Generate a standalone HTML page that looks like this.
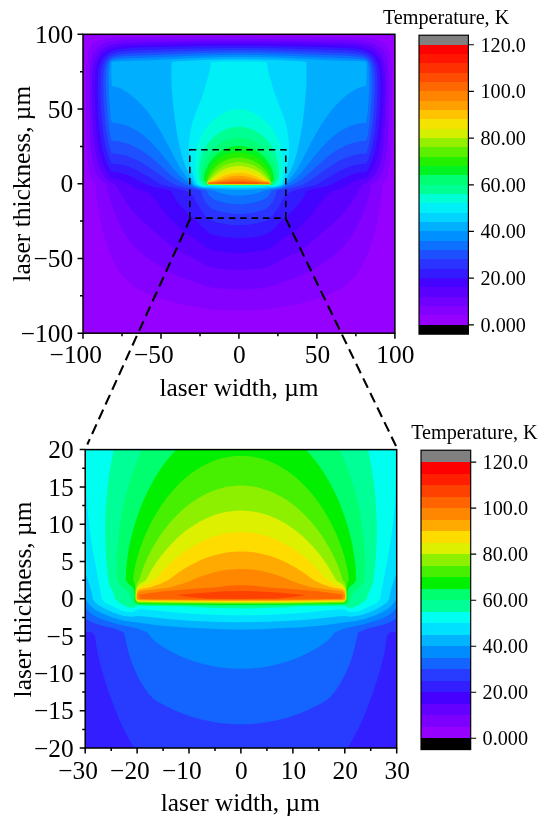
<!DOCTYPE html>
<html lang="en"><head><meta charset="utf-8"><title>Temperature distribution</title>
<style>html,body{margin:0;padding:0;background:#fff}svg{display:block}text{font-family:"Liberation Serif", serif;fill:#000}</style></head><body>
<svg width="550" height="825" viewBox="0 0 550 825">
<rect width="550" height="825" fill="#fff"/>
<clipPath id="c1"><rect x="83.0" y="34.3" width="311.9" height="298.9"/></clipPath>
<g clip-path="url(#c1)" shape-rendering="geometricPrecision">
<rect x="83.0" y="34.3" width="311.9" height="298.9" fill="#9600FF"/>
<path fill="#8400FF" d="M217.9,310.1L229.6,310.5L242.1,310.6L254.5,310.3L265.5,309.7L271.7,308.8L283.4,306.5L295.1,304.5L302.1,303.0L309.1,301.1L320.0,297.7L328.6,294.5L335.6,291.3L341.9,287.7L347.3,283.8L352.0,279.5L356.0,274.9L358.3,271.8L360.6,268.2L364.5,261.2L368.1,253.2L371.1,245.0L374.1,235.3L377.4,221.9L380.1,207.5L381.8,195.0L382.2,189.7L382.4,184.5L382.8,183.8L384.1,182.3L385.5,180.1L386.7,177.8L387.5,175.5L388.4,172.5L389.0,169.6L390.1,161.3L390.7,153.9L391.1,144.9L391.7,119.5L392.0,85.1L391.8,74.7L391.5,66.4L391.0,61.2L390.4,56.7L389.6,53.0L388.7,50.0L387.6,47.8L386.2,45.5L384.8,43.9L382.4,42.1L380.4,41.0L377.7,40.0L374.6,39.2L370.7,38.5L362.2,37.6L349.7,37.1L308.3,36.8L241.3,36.6L187.5,36.7L131.3,37.1L121.2,37.3L113.4,37.8L107.2,38.5L102.5,39.4L98.6,40.6L95.5,42.1L93.0,44.0L91.7,45.5L90.8,46.8L89.9,48.5L89.0,50.7L88.1,53.7L87.5,56.7L86.6,64.2L86.1,74.7L85.9,97.1L86.3,128.5L87.0,148.6L87.9,162.1L89.1,170.3L89.7,173.3L90.6,176.3L92.4,180.1L93.8,182.3L95.1,183.8L95.5,184.5L96.0,193.5L97.4,204.7L99.8,218.1L102.6,230.8L104.8,238.8L107.3,246.5L109.8,253.2L112.8,260.0L115.7,265.6L118.9,270.7L122.5,275.7L125.9,279.5L129.7,283.1L133.7,286.2L138.4,289.2L143.9,292.1L150.1,294.8L157.9,297.7L168.7,301.1L175.8,303.0L183.6,304.7L194.5,306.5L207.0,309.0L212.4,309.7Z"/>
<path fill="#7000FF" d="M231.2,289.1L240.5,289.2L249.1,289.0L258.4,288.4L266.2,287.4L269.4,286.7L272.5,285.8L283.4,281.8L292.0,279.1L297.4,277.0L302.1,275.0L309.1,271.5L320.0,265.1L327.8,259.9L334.9,254.6L340.3,249.8L345.5,244.3L349.7,239.1L353.6,233.1L356.4,227.8L359.6,221.1L362.5,214.4L365.3,207.1L367.9,199.4L369.9,192.7L370.9,188.2L371.3,184.5L372.0,183.8L375.4,181.5L377.8,179.3L379.0,177.8L380.5,175.5L382.4,171.8L383.7,168.1L384.7,164.3L385.6,159.8L386.4,153.9L387.2,146.4L387.9,136.7L388.7,113.5L389.0,85.9L388.8,76.9L388.4,69.4L387.9,64.9L387.1,60.5L386.0,56.7L384.8,53.7L383.2,51.0L381.6,49.0L379.6,47.0L377.0,45.2L374.6,44.0L371.5,42.8L368.4,41.9L364.5,41.2L359.8,40.6L355.1,40.2L342.7,39.7L284.2,39.1L238.2,38.9L190.6,39.1L133.7,39.7L124.3,40.1L117.3,40.7L111.1,41.6L106.4,42.8L102.5,44.3L100.4,45.5L98.6,46.8L96.0,49.2L93.9,52.2L92.8,54.5L91.7,57.5L90.8,60.5L90.2,63.4L89.7,67.2L89.3,71.7L88.9,82.1L89.0,104.5L89.7,129.2L90.7,146.4L91.4,153.1L92.2,159.1L93.1,163.9L94.2,168.1L95.5,171.8L97.0,174.9L98.9,177.8L100.9,180.0L102.5,181.5L105.9,183.8L106.6,184.5L107.0,188.2L108.0,192.7L109.7,198.7L112.3,206.2L115.0,213.3L118.1,220.7L121.2,227.3L123.9,232.3L127.4,238.0L131.3,243.1L136.0,248.2L141.5,253.3L147.0,257.7L154.0,262.6L161.8,267.4L171.0,272.7L176.6,275.4L182.8,278.0L187.5,279.6L194.5,281.8L203.9,285.2L208.5,286.7L212.4,287.6L216.3,288.1L223.4,288.7Z"/>
<path fill="#5B00FF" d="M230.4,269.7L239.7,269.9L249.1,269.6L258.4,268.7L263.9,267.9L266.2,267.4L269.4,266.4L273.3,264.6L283.4,259.0L290.4,255.8L294.3,253.9L298.2,251.7L301.7,249.5L305.2,247.0L308.3,244.6L321.1,233.8L332.5,223.9L340.3,216.4L345.8,210.4L350.5,204.3L353.6,199.5L360.1,188.2L362.8,184.5L364.1,183.8L366.0,183.2L367.5,182.3L371.6,178.5L373.6,176.3L375.2,174.0L376.6,171.8L378.0,168.8L379.2,165.8L380.2,162.8L382.0,155.4L383.4,146.4L384.5,135.2L385.4,121.0L385.9,103.8L386.1,87.4L385.9,78.4L385.5,71.7L384.7,65.7L383.6,61.2L382.1,57.5L380.0,53.7L377.3,50.7L374.5,48.5L371.8,47.0L369.2,45.9L366.0,44.9L362.2,44.0L358.3,43.4L353.6,43.0L340.3,42.3L282.6,41.4L240.5,41.1L200.0,41.4L142.3,42.2L131.3,42.5L123.5,43.0L117.3,43.8L111.9,44.9L107.2,46.5L103.3,48.6L100.2,51.1L98.6,52.9L97.4,54.5L95.5,58.1L94.1,61.9L93.0,67.2L92.3,73.2L91.9,80.6L91.8,90.3L91.9,103.0L92.4,116.8L92.9,127.7L93.6,137.4L94.4,145.6L95.5,153.1L96.7,159.1L98.2,164.3L99.9,168.8L102.2,173.3L104.9,177.0L108.6,180.8L111.1,182.8L111.9,183.2L113.8,183.8L115.1,184.5L117.8,188.2L124.3,199.5L127.4,204.3L132.1,210.4L136.8,215.6L142.3,221.0L149.0,227.1L163.8,239.8L171.9,246.4L177.3,250.2L182.8,253.4L187.5,255.8L194.5,259.0L203.9,264.2L208.5,266.4L211.7,267.4L215.6,268.2L222.6,269.1Z"/>
<path fill="#4403FF" d="M229.6,252.5L235.1,252.8L241.3,252.9L246.7,252.6L253.0,252.1L259.2,251.2L264.7,250.2L267.0,249.4L270.1,247.9L274.8,244.9L283.4,238.2L290.4,233.9L294.3,231.2L297.7,228.6L301.3,225.5L304.4,222.4L307.7,218.9L319.3,204.2L323.9,198.5L327.8,194.4L331.7,191.2L339.5,189.3L342.7,188.2L345.8,186.6L348.1,184.5L349.1,183.8L352.8,182.0L356.7,180.4L361.4,179.0L363.7,178.6L366.0,178.4L366.8,177.9L369.8,174.0L371.3,171.8L373.0,168.8L374.4,165.8L375.6,162.8L377.6,156.1L379.2,148.6L380.6,138.9L381.7,127.7L382.6,114.3L383.1,99.3L383.2,88.1L383.1,79.1L382.6,72.4L381.6,66.4L380.4,61.9L379.4,59.7L378.2,57.5L376.0,54.5L374.5,53.0L372.7,51.5L370.3,50.0L367.6,48.7L364.5,47.7L361.4,46.9L357.5,46.2L353.6,45.8L343.4,45.1L300.6,44.1L260.0,43.5L227.3,43.4L192.9,43.8L139.1,44.9L129.0,45.4L121.2,46.1L117.3,46.7L114.2,47.5L111.1,48.4L108.7,49.4L106.4,50.7L104.2,52.2L102.5,53.8L100.7,56.0L98.6,59.5L97.0,63.4L95.8,68.7L95.1,74.7L94.7,82.9L94.7,93.3L95.0,106.8L95.6,119.5L96.4,129.9L97.3,138.9L98.3,146.4L99.6,153.1L101.1,159.1L102.9,164.3L104.9,168.8L107.6,173.3L111.1,177.9L111.9,178.4L114.2,178.6L116.5,179.0L118.9,179.6L122.0,180.7L128.8,183.8L129.8,184.5L132.1,186.6L134.5,187.9L138.4,189.3L146.2,191.2L146.9,191.8L150.1,194.4L154.0,198.5L158.6,204.2L169.6,218.1L172.7,221.6L175.9,224.8L179.3,227.8L183.1,230.8L187.5,233.9L194.5,238.2L202.3,244.3L205.4,246.5L209.3,248.7L213.2,250.2L221.0,251.6Z"/>
<path fill="#341BFF" d="M229.6,237.6L234.3,237.9L239.7,238.0L245.2,237.8L249.9,237.4L255.3,236.7L260.8,235.7L264.7,234.8L267.0,233.9L270.1,232.0L273.4,229.3L276.4,226.3L284.2,217.9L291.1,212.1L295.9,207.4L299.4,203.2L302.1,199.4L304.4,195.5L306.3,191.2L307.6,190.5L311.5,189.3L324.7,186.8L328.6,185.8L331.0,184.8L338.0,181.0L343.4,178.2L350.5,175.1L354.4,173.8L357.5,172.9L362.2,172.1L366.0,171.9L366.8,171.2L369.8,165.8L372.3,159.8L374.1,153.9L375.9,146.4L377.2,138.2L378.4,128.5L379.3,117.2L380.0,104.5L380.3,92.6L380.3,82.9L380.0,75.4L379.3,69.4L378.0,64.2L376.5,60.5L374.6,57.5L373.1,55.8L371.5,54.4L369.9,53.2L367.6,51.9L365.3,50.9L362.2,50.0L359.0,49.3L355.1,48.7L345.8,47.9L324.7,47.2L271.7,46.0L243.6,45.7L216.3,45.8L189.0,46.3L146.9,47.3L133.7,47.8L125.1,48.4L121.2,48.9L117.3,49.6L114.2,50.4L111.9,51.2L109.5,52.3L107.2,53.8L105.4,55.2L103.3,57.5L102.3,59.0L101.1,61.2L99.7,64.9L98.6,69.4L97.9,75.4L97.6,82.9L97.6,93.3L98.0,106.0L98.6,118.0L99.4,127.7L100.4,135.9L101.5,143.4L102.8,150.1L104.4,156.1L106.2,161.3L108.5,166.6L111.1,171.2L111.9,171.9L115.7,172.1L120.4,172.9L123.5,173.8L127.4,175.1L134.5,178.2L139.9,181.0L146.9,184.8L149.3,185.8L154.0,186.9L165.2,189.0L168.2,189.7L170.3,190.5L171.6,191.2L173.2,195.0L175.3,198.7L178.1,202.8L181.2,206.5L186.7,212.0L193.7,217.9L202.2,227.1L206.3,230.8L210.1,233.5L213.2,234.8L221.0,236.5Z"/>
<path fill="#2B33FF" d="M232.7,224.9L236.6,225.1L241.3,225.1L246.0,224.8L249.9,224.4L254.5,223.7L258.4,223.0L263.1,221.8L265.5,221.0L267.8,219.7L270.1,217.8L272.5,215.5L274.6,212.9L278.2,207.7L283.4,198.3L285.0,195.8L286.7,194.2L291.3,191.2L295.8,189.7L314.4,185.2L316.3,184.5L317.7,183.8L336.4,172.7L341.1,170.2L345.0,168.4L349.7,166.6L354.4,165.3L360.6,164.1L366.0,163.7L366.8,162.8L369.2,156.8L371.1,150.9L372.7,144.1L374.0,136.7L375.2,128.5L376.1,118.7L376.9,107.5L377.4,96.3L377.5,87.4L377.4,79.9L377.0,73.9L376.3,68.7L375.2,64.2L373.9,61.2L372.3,58.8L369.9,56.4L368.4,55.3L366.0,54.0L363.7,53.1L361.4,52.5L355.1,51.3L345.8,50.5L325.5,49.8L274.8,48.3L249.1,48.0L224.9,48.0L202.3,48.4L174.2,49.1L139.9,50.2L126.7,50.9L118.9,51.9L115.7,52.7L113.4,53.4L111.1,54.4L108.7,55.8L107.2,57.1L105.6,58.8L104.5,60.5L103.6,61.9L102.5,64.9L101.6,68.7L100.9,73.9L100.5,79.9L100.4,87.4L100.5,96.3L101.0,106.8L101.6,116.5L102.4,125.5L103.4,133.7L104.5,140.4L105.7,146.4L107.3,152.4L109.0,157.6L111.1,162.8L111.9,163.7L117.3,164.1L123.5,165.3L128.2,166.6L132.9,168.4L136.8,170.2L141.5,172.7L160.2,183.8L161.6,184.5L163.5,185.2L182.1,189.7L186.6,191.2L191.2,194.2L192.9,195.8L194.5,198.3L198.8,206.2L202.2,211.4L205.8,215.9L207.8,217.8L209.3,219.1L210.9,220.2L212.4,221.0L214.0,221.6L217.1,222.4L224.9,224.0Z"/>
<path fill="#1E50FF" d="M232.7,213.7L236.6,213.9L241.3,213.9L249.1,213.2L253.0,212.6L256.9,211.8L260.8,210.8L264.7,209.4L266.5,208.4L268.6,206.7L270.4,204.7L272.5,201.9L274.0,199.2L275.3,196.5L276.1,194.2L276.8,191.2L277.2,190.5L280.1,189.7L284.2,189.0L286.5,188.4L290.4,187.9L295.1,187.0L298.9,186.0L301.4,185.2L303.2,184.5L307.3,182.3L312.0,179.3L326.3,169.1L331.7,165.4L336.4,162.5L341.1,160.0L347.3,157.3L353.6,155.3L359.8,154.1L366.0,153.6L366.8,152.4L368.9,144.9L370.4,138.2L371.6,130.7L372.7,122.5L373.4,114.3L374.1,104.5L374.5,94.8L374.7,86.6L374.7,79.9L374.4,74.7L373.9,70.2L373.3,66.4L372.0,62.7L370.8,60.5L369.2,58.6L367.6,57.4L366.0,56.5L363.7,55.6L361.4,54.9L355.1,53.9L347.3,53.2L331.0,52.5L279.5,50.8L256.9,50.3L235.1,50.2L214.8,50.4L192.2,51.0L143.0,52.7L128.2,53.4L120.4,54.2L115.0,55.4L112.6,56.2L111.1,56.9L109.5,58.0L108.0,59.4L106.7,61.2L105.3,64.2L104.5,67.2L103.8,71.7L103.4,76.9L103.2,82.9L103.5,98.6L104.0,107.5L104.7,116.5L105.5,124.7L106.5,132.2L107.7,138.9L109.1,145.6L111.1,152.4L111.9,153.6L118.1,154.1L124.3,155.3L130.6,157.3L136.8,160.0L141.5,162.5L146.2,165.4L151.6,169.1L165.9,179.3L170.6,182.3L174.7,184.5L176.5,185.2L179.0,186.0L182.8,187.0L187.5,187.9L191.4,188.4L193.7,189.0L197.8,189.7L200.7,190.5L201.1,191.2L201.8,194.2L202.6,196.5L204.6,200.6L206.2,203.0L207.8,205.0L209.3,206.7L210.9,208.0L212.4,209.0L214.0,209.7L219.5,211.4L225.7,212.8Z"/>
<path fill="#0E70FF" d="M232.7,203.9L236.6,204.2L241.3,204.2L245.2,203.9L249.1,203.5L253.0,202.8L256.9,201.8L260.8,200.6L263.9,199.4L266.2,197.9L268.4,195.7L270.1,193.2L271.5,190.5L274.1,189.7L279.5,188.9L283.4,187.9L285.0,187.2L286.5,186.2L289.6,185.6L292.5,184.5L296.7,182.5L299.8,180.6L303.7,177.8L307.3,174.8L321.6,161.9L327.8,156.6L334.1,151.9L339.5,148.5L345.8,145.4L349.7,143.9L352.8,142.9L359.0,141.5L362.9,141.0L366.0,140.8L366.8,139.1L367.9,133.7L369.0,127.0L369.9,119.5L371.2,103.8L371.9,87.4L371.9,76.1L371.6,71.7L371.2,67.9L370.5,64.9L369.8,62.7L369.0,61.2L367.6,59.7L366.8,59.1L365.3,58.3L361.4,57.2L355.9,56.5L347.3,55.8L277.2,53.1L256.1,52.6L235.8,52.5L216.3,52.7L196.1,53.2L128.2,56.0L120.4,56.6L115.0,57.6L111.9,58.7L110.3,59.7L109.5,60.4L108.5,61.9L107.6,64.2L106.9,67.2L106.5,70.2L106.0,79.1L106.1,91.1L106.9,106.8L108.2,121.0L109.0,127.7L110.1,134.4L111.1,139.1L111.9,140.8L118.1,141.3L123.5,142.4L129.8,144.4L136.0,147.3L142.3,150.9L149.3,155.9L155.5,161.2L171.5,175.5L176.2,179.3L180.5,182.0L185.9,184.7L189.0,185.8L191.4,186.2L192.9,187.2L194.5,187.9L198.4,188.9L203.8,189.7L206.4,190.5L207.9,193.5L210.1,196.4L212.4,198.5L214.8,199.7L218.7,201.1L223.4,202.4L228.0,203.4Z"/>
<path fill="#0090FF" d="M236.6,195.7L240.5,195.8L244.4,195.6L251.4,194.6L255.3,193.7L258.4,192.8L261.6,191.7L264.4,190.5L268.2,189.7L274.8,188.8L278.7,188.1L281.8,187.3L284.2,186.3L285.0,185.8L286.5,184.2L290.1,182.3L293.3,180.0L296.0,177.8L299.1,174.8L305.1,168.1L316.9,153.3L322.4,146.9L328.6,140.5L334.9,135.1L338.8,132.3L342.7,129.8L346.6,127.8L350.5,126.1L354.4,124.7L358.3,123.7L362.2,123.1L366.0,122.8L366.8,119.8L368.1,107.5L368.8,95.6L369.2,83.6L369.2,74.7L368.9,67.9L368.2,63.4L367.7,61.9L367.2,61.2L366.0,60.4L362.9,59.6L358.3,59.0L351.2,58.6L277.9,55.4L257.7,54.9L238.9,54.7L220.2,54.9L200.0,55.4L126.7,58.6L119.6,59.0L115.0,59.6L111.9,60.4L110.7,61.2L110.2,61.9L109.7,63.4L109.0,67.9L108.7,74.7L108.7,83.6L109.1,95.6L109.8,107.5L111.1,119.8L111.9,122.8L115.7,123.1L119.6,123.7L123.5,124.7L127.4,126.1L131.3,127.8L135.2,129.8L139.1,132.3L143.0,135.1L149.3,140.5L155.5,146.9L161.0,153.3L172.8,168.1L178.8,174.8L181.9,177.8L184.6,180.0L187.8,182.3L191.4,184.2L192.9,185.8L193.7,186.3L196.1,187.3L199.2,188.1L203.1,188.8L209.7,189.7L213.5,190.5L218.7,192.6L224.9,194.3L230.4,195.2Z"/>
<path fill="#00B0FF" d="M230.4,189.7L240.5,189.9L253.0,189.6L263.1,189.1L272.5,188.3L276.4,187.7L280.3,186.8L282.6,185.9L285.0,184.5L285.6,183.8L286.5,182.3L290.0,178.5L292.5,175.5L294.7,172.5L297.2,168.8L301.9,160.6L313.0,139.0L318.5,129.2L321.6,124.1L324.7,119.4L327.8,115.0L331.7,110.1L335.6,105.6L340.3,100.8L345.0,96.6L349.7,93.0L354.4,90.1L358.3,88.1L362.2,86.8L366.0,86.1L366.4,79.1L366.6,72.4L366.6,65.7L366.3,61.9L366.0,61.7L364.5,61.6L359.0,61.3L332.5,60.4L278.7,57.8L258.4,57.2L239.7,57.0L221.0,57.2L201.5,57.7L145.4,60.4L120.4,61.2L111.9,61.7L111.6,61.9L111.5,63.4L111.3,70.2L111.4,77.6L111.9,86.1L115.7,86.8L119.6,88.1L123.5,90.1L128.2,93.0L132.9,96.6L137.6,100.8L142.3,105.6L146.2,110.1L150.1,115.0L153.2,119.4L156.3,124.1L159.4,129.2L164.9,139.0L176.0,160.6L180.7,168.8L183.2,172.5L185.4,175.5L187.9,178.5L191.4,182.3L192.3,183.8L192.9,184.5L194.5,185.6L196.8,186.5L200.0,187.4L203.9,188.1L216.3,189.2Z"/>
<path fill="#00D4FF" d="M220.2,188.3L231.9,188.6L244.4,188.7L256.9,188.3L268.6,187.5L272.5,187.5L275.6,187.1L279.8,186.0L282.6,184.8L283.2,184.5L283.9,183.8L285.0,181.1L288.5,174.8L290.8,170.3L293.8,162.8L295.5,157.6L297.2,151.6L298.7,144.9L300.2,137.4L301.9,127.7L303.3,117.2L304.6,106.8L305.5,96.3L306.2,87.4L306.5,78.4L306.5,70.2L306.3,61.9L299.6,61.2L274.8,60.0L256.1,59.4L238.9,59.2L221.8,59.4L203.1,60.0L178.3,61.2L171.6,61.9L171.4,74.7L171.7,87.4L172.8,101.6L174.6,117.2L176.8,132.2L179.2,144.9L181.7,155.4L183.3,160.6L184.9,165.1L186.5,168.8L188.2,172.5L192.9,181.1L194.0,183.8L194.7,184.5L196.1,185.2L198.4,186.1L201.5,186.9L203.9,187.4L205.4,187.5L209.3,187.5Z"/>
<path fill="#00F0F8" d="M230.4,187.5L239.7,187.6L249.1,187.5L258.4,187.1L268.6,186.4L272.5,186.8L274.0,186.6L276.8,186.0L281.1,184.5L281.9,183.8L282.7,180.8L286.1,171.0L287.3,166.6L288.1,162.1L288.7,157.6L289.1,152.4L289.1,147.9L288.9,142.7L288.4,137.4L287.7,132.2L286.2,125.5L284.2,118.3L281.8,111.9L276.0,97.1L272.8,87.4L268.2,70.9L267.4,66.4L266.9,61.9L255.3,61.6L238.9,61.4L222.6,61.6L211.0,61.9L210.5,66.4L209.5,71.7L204.4,89.6L201.4,98.6L194.9,115.0L192.7,121.7L190.8,129.2L189.5,137.4L188.8,145.6L188.9,153.9L189.6,160.6L190.8,167.3L192.3,172.5L195.2,180.8L196.0,183.8L196.8,184.5L198.4,185.2L201.5,186.1L204.6,186.7L206.2,186.7L207.8,186.4L209.3,186.4L220.2,187.1Z"/>
<path fill="#00FFD5" d="M205.4,186.0L207.0,185.9L207.7,185.2L208.4,185.2L226.5,186.3L242.8,186.5L255.3,186.1L270.1,185.2L270.9,185.9L272.5,186.0L274.0,185.8L276.0,185.2L278.3,184.5L279.7,183.8L282.0,173.3L282.5,169.6L282.8,165.8L282.8,162.1L282.6,157.6L282.0,153.1L281.2,149.4L280.0,144.9L278.7,141.2L276.7,136.7L274.8,133.0L272.5,129.3L270.1,126.2L267.8,123.5L264.7,120.4L261.6,117.8L257.7,115.1L253.8,113.0L250.6,111.6L246.7,110.3L243.6,109.6L240.5,109.3L237.4,109.3L234.3,109.6L230.4,110.5L227.3,111.6L223.4,113.4L219.5,115.6L216.3,117.8L213.2,120.4L209.6,124.0L207.0,127.2L204.0,131.4L201.9,135.2L199.8,139.7L198.1,144.1L196.7,149.4L195.8,153.9L195.2,159.1L195.1,165.1L195.5,170.3L196.3,175.5L198.2,183.8L199.6,184.5L201.9,185.2L203.9,185.8Z"/>
<path fill="#00FF92" d="M205.4,185.3L207.0,185.4L207.8,185.1L239.7,185.4L270.1,185.1L270.9,185.4L272.6,185.2L274.7,184.5L275.8,183.8L276.5,182.3L277.9,180.8L278.2,180.0L278.8,174.8L278.9,169.6L278.3,164.3L277.2,159.1L275.6,154.2L273.3,149.0L271.3,145.6L269.2,142.7L266.7,139.7L263.9,136.9L260.8,134.3L257.7,132.2L254.5,130.4L250.6,128.8L247.5,127.9L243.6,127.1L239.7,126.8L235.8,126.9L232.7,127.4L228.8,128.3L224.9,129.7L221.8,131.3L217.9,133.7L214.8,136.2L211.7,139.2L209.3,141.9L207.0,145.1L204.6,149.0L202.7,153.1L201.1,157.6L199.8,162.8L199.1,168.1L199.0,173.3L199.6,179.3L200.0,180.8L201.4,182.3L202.1,183.8L203.2,184.5Z"/>
<path fill="#00FF72" d="M207.0,184.8L210.9,185.0L238.9,185.1L267.0,185.0L270.9,184.8L271.5,184.5L272.2,183.0L272.9,182.3L274.8,181.2L275.5,180.8L276.0,180.0L276.2,177.0L276.0,174.0L275.7,171.0L275.1,168.1L274.0,164.5L272.8,161.3L271.0,157.6L269.1,154.6L267.0,151.7L264.2,148.6L261.6,146.2L258.4,143.8L255.3,142.0L252.2,140.5L249.1,139.3L245.2,138.4L242.1,137.9L238.2,137.8L235.1,138.0L231.2,138.7L227.3,139.9L224.1,141.2L220.2,143.3L217.1,145.5L214.0,148.3L211.0,151.6L208.5,154.9L206.5,158.3L204.5,162.8L202.8,168.1L201.9,173.3L201.8,177.8L201.9,180.0L202.4,180.8L205.0,182.3L205.7,183.0L206.4,184.5Z"/>
<path fill="#00F421" d="M207.8,184.8L238.9,185.0L270.1,184.8L270.8,184.5L271.1,182.3L271.7,181.5L273.3,180.8L274.0,180.0L273.8,176.3L273.2,173.3L272.0,169.6L270.7,166.6L269.1,163.6L267.0,160.4L264.7,157.6L262.3,155.2L260.0,153.3L257.7,151.6L254.5,149.8L251.4,148.3L248.3,147.2L245.2,146.5L242.1,146.1L238.2,145.9L235.1,146.1L231.2,146.8L228.0,147.7L224.1,149.4L221.0,151.1L217.9,153.3L214.8,156.0L212.4,158.5L210.1,161.5L207.8,165.4L206.2,168.8L204.7,173.3L204.0,177.0L203.9,180.0L204.6,180.8L206.2,181.5L206.8,182.3L207.1,184.5Z"/>
<path fill="#23F000" d="M207.8,184.6L235.8,184.9L269.4,184.7L270.4,184.5L270.8,183.8L270.9,181.2L272.2,180.0L272.1,179.3L271.7,177.0L270.8,174.0L269.4,171.0L267.8,168.3L266.2,166.1L263.9,163.3L261.6,161.1L259.2,159.1L256.9,157.5L253.8,155.8L251.4,154.8L248.3,153.7L245.2,152.9L242.1,152.5L238.9,152.3L235.8,152.5L232.7,152.9L229.6,153.7L226.5,154.8L223.4,156.2L220.2,158.0L217.9,159.7L215.6,161.8L213.2,164.2L210.9,167.2L208.9,170.3L207.1,174.0L206.2,177.0L205.7,180.0L207.0,181.2L207.1,183.8L207.5,184.5Z"/>
<path fill="#5BF000" d="M208.5,184.6L238.9,184.8L269.4,184.6L270.1,184.5L270.7,183.8L270.6,180.0L269.9,177.8L268.9,175.5L267.8,173.6L266.2,171.3L264.7,169.4L262.3,167.0L260.0,165.0L257.7,163.3L255.3,161.9L253.0,160.7L250.6,159.7L247.5,158.7L244.4,158.1L242.1,157.8L239.7,157.6L236.6,157.7L233.5,158.1L231.2,158.5L228.0,159.4L225.7,160.3L222.6,161.9L220.2,163.3L217.9,165.0L215.6,167.0L213.2,169.4L210.9,172.4L209.3,174.9L208.0,177.8L207.3,180.0L207.2,183.8L207.8,184.5Z"/>
<path fill="#94F000" d="M211.7,184.5L240.5,184.6L269.4,184.5L270.1,184.4L270.6,183.8L270.6,183.0L270.6,182.3L270.1,180.8L269.2,180.0L267.8,177.6L265.5,174.4L263.9,172.7L261.6,170.5L257.7,167.7L255.3,166.3L253.0,165.1L248.3,163.4L243.6,162.4L241.3,162.2L238.2,162.1L235.1,162.3L231.9,162.9L228.8,163.7L226.5,164.5L224.1,165.5L221.0,167.2L218.7,168.7L216.3,170.5L214.0,172.7L211.7,175.4L210.1,177.6L208.7,180.0L207.8,180.8L207.5,181.5L207.3,183.8L207.8,184.4Z"/>
<path fill="#D4F000" d="M235.1,184.5L269.4,184.3L270.1,184.2L270.5,183.8L270.5,183.0L270.1,181.4L269.4,180.8L267.5,180.0L265.5,177.6L262.3,174.7L259.2,172.3L255.3,170.0L251.4,168.3L246.7,166.9L242.1,166.2L237.4,166.1L233.5,166.5L229.6,167.3L225.7,168.6L221.8,170.4L218.7,172.3L215.6,174.7L212.4,177.6L210.4,180.0L208.5,180.8L207.8,181.4L207.5,182.3L207.4,183.8L207.8,184.2L208.5,184.3Z"/>
<path fill="#F4E200" d="M207.8,184.1L211.7,184.3L235.1,184.4L269.4,184.2L270.1,184.1L270.4,183.8L270.4,183.0L270.1,181.8L269.4,181.3L267.4,180.8L265.5,180.0L263.1,178.1L260.0,175.9L256.9,174.1L253.8,172.6L249.9,171.2L246.0,170.2L242.1,169.7L238.2,169.6L234.3,169.9L230.4,170.6L226.5,171.7L222.6,173.3L220.2,174.5L217.1,176.4L212.4,180.0L210.5,180.8L208.5,181.3L207.8,181.8L207.5,183.0L207.5,183.8Z"/>
<path fill="#FFC300" d="M207.8,184.0L211.7,184.1L234.3,184.3L268.6,184.1L270.1,184.0L270.3,183.8L270.3,183.0L270.1,182.1L269.4,181.7L266.2,181.1L262.7,180.0L256.9,176.8L251.4,174.7L247.5,173.7L244.4,173.1L241.3,172.8L238.2,172.8L235.1,173.0L231.2,173.5L228.0,174.3L224.9,175.2L220.2,177.2L215.2,180.0L211.7,181.1L208.5,181.7L207.8,182.1L207.7,182.3L207.6,183.8Z"/>
<path fill="#FFA000" d="M207.8,183.9L210.9,184.0L233.5,184.1L267.8,184.0L270.1,183.9L270.2,183.0L270.1,182.5L269.4,182.0L264.4,181.5L261.1,180.8L258.5,180.0L253.8,178.2L249.1,176.9L243.6,176.0L238.2,175.7L234.3,176.0L229.6,176.7L224.9,177.9L219.4,180.0L216.8,180.8L213.5,181.5L208.5,182.0L207.8,182.5L207.7,183.0Z"/>
<path fill="#FF8400" d="M208.5,183.9L238.2,184.0L268.6,183.9L270.1,183.8L270.1,183.0L269.4,182.4L258.6,181.5L246.0,178.9L242.1,178.5L238.2,178.4L234.3,178.7L231.2,179.1L219.3,181.5L208.5,182.4L207.8,183.0L207.8,183.8Z"/>
<path fill="#FF6800" d="M209.3,183.8L238.9,183.9L267.8,183.8L269.2,183.8L269.5,183.0L262.2,182.3L247.1,181.5L242.1,181.1L238.2,181.0L215.7,182.3L210.1,182.8L208.4,183.0L208.5,183.7Z"/>
<path fill="#FF4C00" d="M223.4,183.8L254.8,183.8L262.0,183.0L249.1,182.2L241.3,182.1L233.5,182.1L227.8,182.3L215.9,183.0Z"/>
</g>
<clipPath id="c2"><rect x="85.2" y="449.6" width="311.5" height="298.4"/></clipPath>
<g clip-path="url(#c2)" shape-rendering="geometricPrecision">
<rect x="85.2" y="449.6" width="311.5" height="298.4" fill="#9600FF"/>
<path fill="#7D00FF" d="M77.4,762.9L407.1,762.9L407.1,434.7L74.8,434.7L74.8,762.9Z"/>
<path fill="#6400FF" d="M77.4,762.9L407.1,762.9L407.1,434.7L74.8,434.7L74.8,762.9Z"/>
<path fill="#4600FF" d="M77.4,762.9L407.1,762.9L407.1,434.7L74.8,434.7L74.8,762.9Z"/>
<path fill="#321EFF" d="M82.6,759.6L85.5,762.9L396.4,762.9L401.9,756.5L407.1,750.2L407.1,434.7L74.8,434.7L74.8,750.2Z"/>
<path fill="#283CFF" d="M144.9,762.1L145.7,762.9L336.2,762.9L339.6,759.2L342.5,755.5L347.4,748.5L350.0,744.3L354.2,736.8L357.8,729.8L361.5,721.9L364.7,714.4L367.7,707.0L371.9,695.8L374.4,688.3L376.8,680.9L380.1,669.7L383.0,658.5L384.7,651.0L386.0,643.6L386.8,636.1L388.9,633.4L390.0,632.4L394.1,631.7L396.7,631.8L399.3,632.5L401.9,632.7L407.1,631.9L407.1,434.7L74.8,434.7L74.8,631.9L80.0,632.7L82.6,632.5L85.2,631.8L87.8,631.7L91.9,632.4L93.0,633.4L95.1,636.1L95.9,643.6L97.2,651.0L98.9,658.5L101.8,669.7L105.1,680.9L107.5,688.3L110.0,695.8L114.2,707.0L117.2,714.4L121.5,724.4L125.8,733.1L129.3,739.8L134.2,748.0L137.1,752.3L139.7,755.9Z"/>
<path fill="#1464FF" d="M215.0,722.2L220.2,722.9L228.0,723.7L235.8,724.2L243.5,724.2L251.3,723.9L256.5,723.5L264.3,722.6L269.5,721.8L277.3,720.2L282.5,718.9L290.3,716.7L295.5,715.0L303.2,712.0L308.4,709.8L316.2,706.0L321.4,703.3L324.0,701.8L326.6,700.0L329.2,697.9L331.8,695.2L334.4,692.2L337.0,688.6L339.6,684.6L342.2,680.1L344.8,675.1L347.4,669.3L350.0,662.8L351.5,658.5L352.7,654.8L354.8,647.3L356.4,639.8L357.1,636.1L358.2,632.4L367.5,628.6L378.5,626.0L383.7,624.5L388.9,622.7L391.5,621.5L394.1,620.0L396.7,617.9L399.3,616.3L401.9,616.0L407.1,615.0L407.1,434.7L74.8,434.7L74.8,615.0L80.0,616.0L82.6,616.3L85.2,617.9L87.8,620.0L90.4,621.5L93.0,622.7L98.2,624.5L103.4,626.0L114.4,628.6L123.7,632.4L124.8,636.1L125.5,639.8L127.1,647.3L129.3,655.2L131.7,662.2L133.1,665.9L137.1,675.1L140.1,680.9L142.3,684.6L144.9,688.6L147.5,692.2L150.1,695.2L152.7,697.9L155.3,700.0L157.9,701.8L160.5,703.3L168.3,707.3L176.1,710.9L183.8,714.0L191.6,716.7L199.4,718.9L207.2,720.8Z"/>
<path fill="#008CFF" d="M212.4,666.1L220.2,667.4L230.6,668.5L240.9,668.8L251.3,668.5L261.7,667.4L272.1,665.6L279.9,663.7L290.3,660.5L298.1,657.6L305.8,654.1L313.6,650.0L318.8,646.9L324.0,643.5L326.6,641.5L329.2,639.0L331.8,636.0L334.6,632.4L344.4,628.6L350.0,627.2L363.0,624.4L373.3,621.6L381.1,618.9L386.3,616.6L388.9,615.1L390.9,613.7L394.1,610.7L397.2,606.3L399.3,602.7L401.9,601.6L407.1,598.2L407.1,434.7L74.8,434.7L74.8,598.2L80.0,601.6L82.6,602.7L84.7,606.3L87.8,610.7L91.0,613.7L93.0,615.1L95.6,616.6L100.8,618.9L108.6,621.6L118.9,624.4L131.9,627.2L137.5,628.6L147.3,632.4L150.1,636.0L152.7,639.0L155.3,641.5L157.9,643.5L165.7,648.5L173.5,652.8L181.2,656.5L186.4,658.6L191.6,660.5L202.0,663.7Z"/>
<path fill="#00B4FF" d="M212.4,628.7L222.8,629.2L235.8,629.5L248.7,629.4L259.1,629.2L285.1,628.1L298.1,627.4L313.6,626.2L326.6,624.9L342.2,622.7L355.2,621.1L360.4,620.1L365.5,618.7L373.3,616.1L378.5,614.0L381.1,612.8L386.3,609.8L388.9,607.9L391.5,605.5L394.2,602.5L396.4,598.8L397.6,595.1L399.3,591.6L407.1,578.9L407.1,434.7L74.8,434.7L74.8,578.9L82.6,591.6L84.3,595.1L85.5,598.8L87.8,602.7L90.4,605.5L93.0,607.9L95.9,610.0L100.8,612.8L106.0,615.1L111.2,617.0L118.9,619.4L124.1,620.7L129.3,621.5L139.7,622.7L155.3,624.9L165.7,626.0L186.4,627.5Z"/>
<path fill="#00E1FF" d="M202.0,621.3L220.2,621.9L235.8,622.2L251.3,622.1L266.9,621.8L285.1,621.0L303.2,619.9L318.8,618.5L339.6,616.2L344.8,616.1L350.0,616.7L352.6,616.6L355.2,616.3L360.4,615.3L365.5,613.7L370.7,611.7L374.6,610.0L378.5,608.0L381.5,606.3L386.7,602.5L389.1,598.8L390.6,591.3L392.7,583.9L402.8,554.0L407.1,540.1L407.1,434.7L74.8,434.7L74.8,540.1L79.1,554.0L89.2,583.9L91.3,591.3L92.8,598.8L95.2,602.5L98.2,604.8L100.8,606.5L106.0,609.3L108.6,610.6L113.8,612.7L118.9,614.5L124.1,615.9L126.7,616.3L129.3,616.6L131.9,616.7L137.1,616.1L142.3,616.2L160.5,618.2L173.5,619.5L186.4,620.4Z"/>
<path fill="#00FFF0" d="M194.2,613.9L212.4,614.7L230.6,615.2L246.1,615.3L264.3,614.9L282.5,614.2L300.7,613.0L316.2,611.6L337.0,609.4L342.2,609.2L344.8,609.4L345.3,610.0L347.4,611.3L350.0,612.0L352.6,612.0L355.2,611.8L357.8,611.2L361.7,610.0L375.9,603.3L377.2,602.5L380.2,598.8L382.7,583.9L387.8,557.8L389.7,546.6L392.0,531.7L393.3,520.5L395.0,501.8L395.6,490.6L396.0,479.4L396.2,468.3L396.1,457.1L395.7,445.9L395.2,434.7L86.7,434.7L86.2,445.9L85.8,457.1L85.8,475.7L86.5,494.4L87.8,513.0L89.5,527.9L91.6,542.9L94.1,557.8L99.8,587.6L101.7,598.8L104.7,602.5L106.0,603.3L120.2,610.0L124.1,611.2L126.7,611.8L129.3,612.0L131.9,612.0L134.5,611.3L136.6,610.0L137.1,609.4L139.7,609.2L142.3,609.2L147.5,609.7L170.9,612.1Z"/>
<path fill="#00FF96" d="M126.7,606.6L129.3,607.4L131.9,607.7L134.5,607.7L135.6,606.3L137.1,605.7L181.8,606.3L199.4,607.3L215.0,607.9L230.6,608.3L243.5,608.4L256.5,608.2L269.5,607.8L285.1,607.2L300.1,606.3L344.8,605.7L346.3,606.3L347.4,607.7L350.0,607.7L352.6,607.4L356.2,606.3L363.0,602.5L366.8,598.8L367.9,595.1L369.3,591.3L371.3,587.6L372.7,583.9L373.5,580.2L375.1,565.2L376.0,554.0L376.5,542.9L376.8,531.7L376.7,520.5L376.2,509.3L375.1,494.4L373.9,483.2L371.7,468.3L369.7,457.1L367.2,445.9L364.4,434.7L117.5,434.7L113.8,449.6L111.2,462.8L109.0,475.7L107.2,490.6L105.9,505.6L105.2,520.5L105.2,535.4L105.7,550.3L106.4,561.5L107.5,572.7L108.4,580.2L109.2,583.9L110.6,587.6L112.6,591.3L114.0,595.1L115.1,598.8L118.9,602.5L125.7,606.3Z"/>
<path fill="#00FF6E" d="M134.5,604.0L137.1,604.7L139.7,604.9L170.9,605.4L233.2,605.7L290.3,605.5L342.2,604.9L344.8,604.7L347.4,604.0L349.4,602.5L350.0,600.1L350.8,598.8L351.8,595.1L354.0,591.3L357.8,588.6L360.4,586.3L362.6,583.9L364.2,580.2L364.8,569.0L364.7,557.8L364.2,546.6L363.2,535.4L361.2,520.5L359.2,509.3L357.6,501.8L355.7,494.4L352.6,483.1L350.0,475.0L347.6,468.3L343.1,457.1L339.6,449.2L337.0,443.9L332.0,434.7L149.9,434.7L144.9,443.9L142.3,449.2L138.8,457.1L134.3,468.3L131.9,475.0L129.3,483.1L126.2,494.4L124.3,501.8L122.7,509.3L120.1,524.2L118.3,539.1L117.5,550.3L117.1,561.5L117.2,572.7L117.7,580.2L119.3,583.9L121.5,586.3L124.1,588.6L127.9,591.3L130.1,595.1L131.1,598.8L131.9,600.1L132.5,602.5Z"/>
<path fill="#00F000" d="M137.1,603.8L139.7,604.1L147.5,604.3L194.2,604.8L238.4,604.9L279.9,604.8L342.2,604.1L344.8,603.8L346.6,602.5L347.3,598.8L347.4,590.8L349.1,587.6L350.0,586.4L353.5,583.9L355.9,580.2L356.0,576.4L355.7,569.0L354.5,557.8L352.7,546.6L350.2,535.4L347.4,525.1L343.4,513.0L339.6,503.1L334.4,491.6L329.2,481.7L324.0,473.0L318.8,465.3L316.2,461.8L311.0,455.4L305.8,449.6L300.7,444.5L295.5,439.9L288.6,434.7L193.3,434.7L186.4,439.9L181.2,444.5L178.6,447.0L173.5,452.4L170.9,455.4L165.7,461.8L163.1,465.3L158.6,472.0L155.3,477.2L151.9,483.2L148.0,490.6L142.9,501.8L138.5,513.0L134.5,525.1L132.7,531.7L130.8,539.1L129.2,546.6L127.9,554.0L126.9,561.5L126.2,569.0L125.9,576.4L126.0,580.2L128.4,583.9L131.9,586.4L132.8,587.6L134.5,590.8L134.6,598.8L135.3,602.5Z"/>
<path fill="#46F000" d="M137.1,602.9L139.7,603.3L152.7,603.6L228.0,604.1L287.7,604.0L342.2,603.3L344.8,602.9L345.3,602.5L346.9,598.8L346.8,587.6L347.4,583.0L348.8,580.2L348.5,576.4L348.0,572.7L346.6,565.2L344.8,558.1L342.4,550.3L339.6,542.3L337.0,535.8L334.4,529.9L331.8,524.6L326.6,515.0L324.0,510.7L318.8,502.8L316.2,499.3L311.0,492.7L308.4,489.7L303.2,484.2L300.7,481.7L295.5,477.1L287.7,471.2L279.9,466.3L274.7,463.6L269.5,461.3L261.7,458.6L256.5,457.4L251.3,456.4L246.1,455.9L240.9,455.7L235.8,455.9L230.6,456.4L225.4,457.4L220.2,458.6L215.0,460.3L209.8,462.4L202.0,466.3L196.8,469.4L191.6,473.0L186.4,477.1L181.2,481.7L178.6,484.2L173.5,489.7L168.3,495.9L165.7,499.3L160.5,506.6L157.9,510.7L154.3,516.7L150.1,524.6L147.5,529.9L144.9,535.8L142.3,542.3L139.7,549.6L137.1,558.1L135.3,565.2L133.9,572.7L133.4,576.4L133.1,580.2L134.5,583.0L135.1,587.6L135.0,598.8L136.6,602.5Z"/>
<path fill="#8CF000" d="M142.3,602.6L191.6,603.1L243.5,603.3L300.7,603.0L342.2,602.5L344.8,602.0L346.5,598.8L346.3,591.3L345.9,587.6L345.2,583.9L344.8,582.5L342.8,580.2L339.6,570.2L337.0,563.6L334.4,557.8L331.8,552.5L329.2,547.7L324.0,539.0L321.4,535.1L316.2,528.0L311.0,521.6L308.4,518.7L303.2,513.4L300.7,510.9L295.5,506.4L287.7,500.6L279.9,495.9L272.1,492.1L264.3,489.2L259.1,487.7L253.9,486.6L246.1,485.7L240.9,485.5L235.8,485.7L230.6,486.2L225.4,487.1L217.6,489.2L212.4,491.0L207.2,493.2L199.4,497.4L191.6,502.4L189.0,504.4L183.8,508.6L181.2,510.9L176.1,516.0L170.9,521.6L168.3,524.7L163.1,531.4L160.5,535.1L155.3,543.2L152.7,547.7L150.1,552.5L147.5,557.8L144.9,563.6L142.3,570.2L139.1,580.2L137.1,582.5L136.7,583.9L136.0,587.6L135.6,591.3L135.4,598.8L137.1,602.0L139.7,602.5Z"/>
<path fill="#DCF000" d="M228.0,602.5L285.1,602.4L324.0,602.1L342.2,601.7L344.8,601.3L346.1,598.8L346.1,595.1L345.8,591.3L344.8,587.1L342.2,584.1L336.1,580.2L331.8,572.4L326.6,564.1L321.4,556.8L316.2,550.3L311.0,544.4L305.8,539.2L300.7,534.5L292.9,528.4L285.1,523.3L277.3,519.1L269.5,515.8L264.3,514.0L256.5,512.1L248.7,510.9L240.9,510.5L233.2,510.9L225.4,512.1L220.2,513.3L215.0,514.8L207.2,517.9L199.4,521.8L194.2,524.9L186.4,530.3L181.2,534.5L176.1,539.2L170.9,544.4L165.7,550.3L160.5,556.8L155.3,564.1L152.7,568.1L150.1,572.4L145.8,580.2L139.7,584.1L137.1,587.1L136.1,591.3L135.8,595.1L135.8,598.8L137.1,601.3L139.7,601.7L173.5,602.2Z"/>
<path fill="#FFDC00" d="M137.1,600.5L139.7,601.0L150.1,601.2L228.0,601.8L285.1,601.7L342.2,601.0L344.8,600.5L345.7,598.8L345.7,595.1L345.3,591.3L344.8,589.3L342.6,587.6L342.2,587.1L333.8,583.9L327.3,580.2L318.8,570.5L313.6,565.3L308.4,560.5L303.2,556.1L298.1,552.1L292.9,548.6L287.7,545.4L282.5,542.6L277.3,540.1L269.5,537.0L264.3,535.4L259.1,534.1L251.3,532.8L246.1,532.3L238.4,532.2L230.6,532.8L225.4,533.6L220.2,534.7L212.4,537.0L204.6,540.1L199.4,542.6L194.2,545.4L186.4,550.3L178.6,556.1L170.9,562.8L163.1,570.5L154.6,580.2L148.1,583.9L139.7,587.1L139.3,587.6L137.1,589.3L136.6,591.3L136.2,595.1L136.2,598.8Z"/>
<path fill="#FFAA00" d="M137.1,599.7L139.7,600.3L147.5,600.4L225.4,601.1L277.3,601.0L339.6,600.3L342.2,600.3L344.8,599.7L345.3,598.8L345.3,595.1L344.8,591.3L342.2,589.3L332.3,587.6L324.0,584.8L321.6,583.9L318.8,582.5L313.9,580.2L305.8,574.2L300.7,570.7L295.5,567.5L287.7,563.2L279.9,559.6L274.7,557.6L269.5,555.8L264.3,554.4L259.1,553.2L253.9,552.3L248.7,551.8L243.5,551.5L238.4,551.5L233.2,551.8L228.0,552.3L222.8,553.2L217.6,554.4L212.4,555.8L207.2,557.6L202.0,559.6L196.8,562.0L189.0,566.0L183.8,569.1L176.1,574.2L168.0,580.2L163.1,582.5L160.3,583.9L157.9,584.8L149.6,587.6L139.7,589.3L137.1,591.3L136.6,595.1L136.6,598.8Z"/>
<path fill="#FF8700" d="M137.1,598.9L139.7,599.5L147.5,599.7L222.8,600.3L274.7,600.3L337.0,599.6L342.2,599.5L344.8,598.9L344.9,595.1L344.8,594.3L342.2,591.3L312.3,587.6L300.1,583.9L289.9,580.2L285.1,578.1L277.3,575.2L272.1,573.6L266.9,572.2L261.7,571.0L253.9,569.8L246.1,569.1L238.4,569.0L230.6,569.5L225.4,570.1L220.2,571.0L212.4,572.8L207.2,574.4L202.0,576.1L196.8,578.1L192.0,580.2L181.8,583.9L169.6,587.6L139.7,591.3L137.1,594.3Z"/>
<path fill="#FF6400" d="M142.3,598.9L194.2,599.4L240.9,599.6L285.1,599.5L337.0,598.9L341.8,598.8L342.2,598.5L342.6,595.1L342.2,594.6L318.5,591.3L287.7,588.8L268.0,587.6L259.1,586.3L251.3,585.5L243.5,585.2L238.4,585.2L228.0,585.8L220.2,586.7L213.9,587.6L194.2,588.8L163.4,591.3L144.9,593.8L139.7,594.6L139.3,595.1L139.7,598.5L140.1,598.8Z"/>
<path fill="#FF4100" d="M207.2,598.8L240.9,598.9L275.3,598.8L292.9,597.0L306.2,595.1L277.3,592.6L259.1,591.4L243.5,591.1L225.0,591.3L207.2,592.4L175.7,595.1L191.6,597.3Z"/>
</g>
<rect x="83.0" y="34.3" width="311.9" height="298.9" fill="none" stroke="#000" stroke-width="1.50"/>
<rect x="85.2" y="449.6" width="311.5" height="298.4" fill="none" stroke="#000" stroke-width="1.50"/>
<path d="M83.0,333.2v5.5M161.0,333.2v5.5M238.9,333.2v5.5M316.9,333.2v5.5M394.9,333.2v5.5M122.0,333.2v3.0M200.0,333.2v3.0M277.9,333.2v3.0M355.9,333.2v3.0M83.0,333.2h-5.5M83.0,258.5h-5.5M83.0,183.8h-5.5M83.0,109.0h-5.5M83.0,34.3h-5.5M83.0,295.8h-3.0M83.0,221.1h-3.0M83.0,146.4h-3.0M83.0,71.7h-3.0" stroke="#000" stroke-width="1.50" fill="none"/>
<path d="M85.2,748.0v5.5M137.1,748.0v5.5M189.0,748.0v5.5M240.9,748.0v5.5M292.9,748.0v5.5M344.8,748.0v5.5M396.7,748.0v5.5M111.2,748.0v3.0M163.1,748.0v3.0M215.0,748.0v3.0M266.9,748.0v3.0M318.8,748.0v3.0M370.7,748.0v3.0M85.2,748.0h-5.5M85.2,710.7h-5.5M85.2,673.4h-5.5M85.2,636.1h-5.5M85.2,598.8h-5.5M85.2,561.5h-5.5M85.2,524.2h-5.5M85.2,486.9h-5.5M85.2,449.6h-5.5M85.2,729.4h-3.0M85.2,692.0h-3.0M85.2,654.8h-3.0M85.2,617.5h-3.0M85.2,580.2h-3.0M85.2,542.9h-3.0M85.2,505.6h-3.0M85.2,468.3h-3.0" stroke="#000" stroke-width="1.50" fill="none"/>
<text x="73.2" y="341.8" font-size="25.4" text-anchor="end">−100</text>
<text x="73.2" y="267.1" font-size="25.4" text-anchor="end">−50</text>
<text x="73.2" y="192.3" font-size="25.4" text-anchor="end">0</text>
<text x="73.2" y="117.6" font-size="25.4" text-anchor="end">50</text>
<text x="73.2" y="42.9" font-size="25.4" text-anchor="end">100</text>
<text x="102.0" y="362.8" font-size="25.4" text-anchor="end">−100</text>
<text x="173.7" y="362.8" font-size="25.4" text-anchor="end">−50</text>
<text x="239.4" y="362.8" font-size="25.4" text-anchor="middle">0</text>
<text x="317.4" y="362.8" font-size="25.4" text-anchor="middle">50</text>
<text x="395.4" y="362.8" font-size="25.4" text-anchor="middle">100</text>
<text x="239.0" y="395.9" font-size="25.4" text-anchor="middle">laser width, µm</text>
<text x="29.8" y="183.7" font-size="25.4" text-anchor="middle" transform="rotate(-90 29.8 183.7)">laser thickness, µm</text>
<text x="73.6" y="756.6" font-size="25.4" text-anchor="end">−20</text>
<text x="73.6" y="719.3" font-size="25.4" text-anchor="end">−15</text>
<text x="73.6" y="682.0" font-size="25.4" text-anchor="end">−10</text>
<text x="73.6" y="644.7" font-size="25.4" text-anchor="end">−5</text>
<text x="73.6" y="607.4" font-size="25.4" text-anchor="end">0</text>
<text x="73.6" y="570.1" font-size="25.4" text-anchor="end">5</text>
<text x="73.6" y="532.8" font-size="25.4" text-anchor="end">10</text>
<text x="73.6" y="495.5" font-size="25.4" text-anchor="end">15</text>
<text x="73.6" y="458.2" font-size="25.4" text-anchor="end">20</text>
<text x="97.9" y="778.5" font-size="25.4" text-anchor="end">−30</text>
<text x="149.8" y="778.5" font-size="25.4" text-anchor="end">−20</text>
<text x="201.7" y="778.5" font-size="25.4" text-anchor="end">−10</text>
<text x="241.4" y="778.5" font-size="25.4" text-anchor="middle">0</text>
<text x="293.4" y="778.5" font-size="25.4" text-anchor="middle">10</text>
<text x="345.3" y="778.5" font-size="25.4" text-anchor="middle">20</text>
<text x="397.2" y="778.5" font-size="25.4" text-anchor="middle">30</text>
<text x="240.3" y="811.0" font-size="25.4" text-anchor="middle">laser width, µm</text>
<text x="31.2" y="599.5" font-size="25.4" text-anchor="middle" transform="rotate(-90 31.2 599.5)">laser thickness, µm</text>
<g shape-rendering="crispEdges">
<rect x="419.0" y="35.2" width="49.4" height="10.0" fill="#808080"/>
<rect x="419.0" y="44.70" width="49.4" height="9.84" fill="#FF0000"/>
<rect x="419.0" y="54.04" width="49.4" height="9.84" fill="#FF1500"/>
<rect x="419.0" y="63.37" width="49.4" height="9.84" fill="#FF3000"/>
<rect x="419.0" y="72.71" width="49.4" height="9.84" fill="#FF4C00"/>
<rect x="419.0" y="82.05" width="49.4" height="9.84" fill="#FF6800"/>
<rect x="419.0" y="91.38" width="49.4" height="9.84" fill="#FF8400"/>
<rect x="419.0" y="100.72" width="49.4" height="9.84" fill="#FFA000"/>
<rect x="419.0" y="110.06" width="49.4" height="9.84" fill="#FFC300"/>
<rect x="419.0" y="119.39" width="49.4" height="9.84" fill="#F4E200"/>
<rect x="419.0" y="128.73" width="49.4" height="9.84" fill="#D4F000"/>
<rect x="419.0" y="138.07" width="49.4" height="9.84" fill="#94F000"/>
<rect x="419.0" y="147.40" width="49.4" height="9.84" fill="#5BF000"/>
<rect x="419.0" y="156.74" width="49.4" height="9.84" fill="#23F000"/>
<rect x="419.0" y="166.08" width="49.4" height="9.84" fill="#00F421"/>
<rect x="419.0" y="175.41" width="49.4" height="9.84" fill="#00FF72"/>
<rect x="419.0" y="184.75" width="49.4" height="9.84" fill="#00FF92"/>
<rect x="419.0" y="194.09" width="49.4" height="9.84" fill="#00FFD5"/>
<rect x="419.0" y="203.42" width="49.4" height="9.84" fill="#00F0F8"/>
<rect x="419.0" y="212.76" width="49.4" height="9.84" fill="#00D4FF"/>
<rect x="419.0" y="222.10" width="49.4" height="9.84" fill="#00B0FF"/>
<rect x="419.0" y="231.43" width="49.4" height="9.84" fill="#0090FF"/>
<rect x="419.0" y="240.77" width="49.4" height="9.84" fill="#0E70FF"/>
<rect x="419.0" y="250.11" width="49.4" height="9.84" fill="#1E50FF"/>
<rect x="419.0" y="259.44" width="49.4" height="9.84" fill="#2B33FF"/>
<rect x="419.0" y="268.78" width="49.4" height="9.84" fill="#341BFF"/>
<rect x="419.0" y="278.12" width="49.4" height="9.84" fill="#4403FF"/>
<rect x="419.0" y="287.45" width="49.4" height="9.84" fill="#5B00FF"/>
<rect x="419.0" y="296.79" width="49.4" height="9.84" fill="#7000FF"/>
<rect x="419.0" y="306.13" width="49.4" height="9.84" fill="#8400FF"/>
<rect x="419.0" y="315.46" width="49.4" height="9.84" fill="#9600FF"/>
<rect x="419.0" y="324.8" width="49.4" height="9.4" fill="#000"/>
</g>
<rect x="419.0" y="35.2" width="49.4" height="299.0" fill="none" stroke="#000" stroke-width="1.15"/>
<text x="480.5" y="331.6" font-size="20.2" text-anchor="start">0.000</text>
<text x="480.5" y="284.9" font-size="20.2" text-anchor="start">20.00</text>
<text x="480.5" y="238.2" font-size="20.2" text-anchor="start">40.00</text>
<text x="480.5" y="191.6" font-size="20.2" text-anchor="start">60.00</text>
<text x="480.5" y="144.9" font-size="20.2" text-anchor="start">80.00</text>
<text x="480.5" y="98.2" font-size="20.2" text-anchor="start">100.0</text>
<text x="480.5" y="51.5" font-size="20.2" text-anchor="start">120.0</text>
<path d="M468.4,324.8h5.5M468.4,278.1h5.5M468.4,231.4h5.5M468.4,184.8h5.5M468.4,138.1h5.5M468.4,91.4h5.5M468.4,44.7h5.5" stroke="#000" stroke-width="1.15" fill="none"/>
<text x="382.9" y="23.6" font-size="20.2" text-anchor="start">Temperature, K</text>
<g shape-rendering="crispEdges">
<rect x="421.0" y="450.2" width="49.7" height="12.4" fill="#808080"/>
<rect x="421.0" y="462.10" width="49.7" height="12.00" fill="#FF0000"/>
<rect x="421.0" y="473.60" width="49.7" height="12.00" fill="#FF1E00"/>
<rect x="421.0" y="485.11" width="49.7" height="12.00" fill="#FF4100"/>
<rect x="421.0" y="496.61" width="49.7" height="12.00" fill="#FF6400"/>
<rect x="421.0" y="508.12" width="49.7" height="12.00" fill="#FF8700"/>
<rect x="421.0" y="519.62" width="49.7" height="12.00" fill="#FFAA00"/>
<rect x="421.0" y="531.12" width="49.7" height="12.00" fill="#FFDC00"/>
<rect x="421.0" y="542.63" width="49.7" height="12.00" fill="#DCF000"/>
<rect x="421.0" y="554.13" width="49.7" height="12.00" fill="#8CF000"/>
<rect x="421.0" y="565.64" width="49.7" height="12.00" fill="#46F000"/>
<rect x="421.0" y="577.14" width="49.7" height="12.00" fill="#00F000"/>
<rect x="421.0" y="588.65" width="49.7" height="12.00" fill="#00FF6E"/>
<rect x="421.0" y="600.15" width="49.7" height="12.00" fill="#00FF96"/>
<rect x="421.0" y="611.65" width="49.7" height="12.00" fill="#00FFF0"/>
<rect x="421.0" y="623.16" width="49.7" height="12.00" fill="#00E1FF"/>
<rect x="421.0" y="634.66" width="49.7" height="12.00" fill="#00B4FF"/>
<rect x="421.0" y="646.17" width="49.7" height="12.00" fill="#008CFF"/>
<rect x="421.0" y="657.67" width="49.7" height="12.00" fill="#1464FF"/>
<rect x="421.0" y="669.18" width="49.7" height="12.00" fill="#283CFF"/>
<rect x="421.0" y="680.68" width="49.7" height="12.00" fill="#321EFF"/>
<rect x="421.0" y="692.18" width="49.7" height="12.00" fill="#4600FF"/>
<rect x="421.0" y="703.69" width="49.7" height="12.00" fill="#6400FF"/>
<rect x="421.0" y="715.19" width="49.7" height="12.00" fill="#7D00FF"/>
<rect x="421.0" y="726.70" width="49.7" height="12.00" fill="#9600FF"/>
<rect x="421.0" y="738.2" width="49.7" height="11.4" fill="#000"/>
</g>
<rect x="421.0" y="450.2" width="49.7" height="299.4" fill="none" stroke="#000" stroke-width="1.15"/>
<text x="482.6" y="745.0" font-size="20.2" text-anchor="start">0.000</text>
<text x="482.6" y="699.0" font-size="20.2" text-anchor="start">20.00</text>
<text x="482.6" y="653.0" font-size="20.2" text-anchor="start">40.00</text>
<text x="482.6" y="607.0" font-size="20.2" text-anchor="start">60.00</text>
<text x="482.6" y="560.9" font-size="20.2" text-anchor="start">80.00</text>
<text x="482.6" y="514.9" font-size="20.2" text-anchor="start">100.0</text>
<text x="482.6" y="468.9" font-size="20.2" text-anchor="start">120.0</text>
<path d="M470.7,738.2h5.5M470.7,692.2h5.5M470.7,646.2h5.5M470.7,600.2h5.5M470.7,554.1h5.5M470.7,508.1h5.5M470.7,462.1h5.5" stroke="#000" stroke-width="1.15" fill="none"/>
<text x="411.2" y="439.2" font-size="20.2" text-anchor="start">Temperature, K</text>
<rect x="189.8" y="149.8" width="96" height="68.3" fill="none" stroke="#000" stroke-width="1.6" stroke-dasharray="6.5,4.8"/>
<g fill="none" stroke="#000" stroke-width="2.1" stroke-dasharray="10.5,5.7">
<path d="M190.5,218L87.3,444.5"/><path d="M285.5,218L396,446"/>
</g>
</svg></body></html>
